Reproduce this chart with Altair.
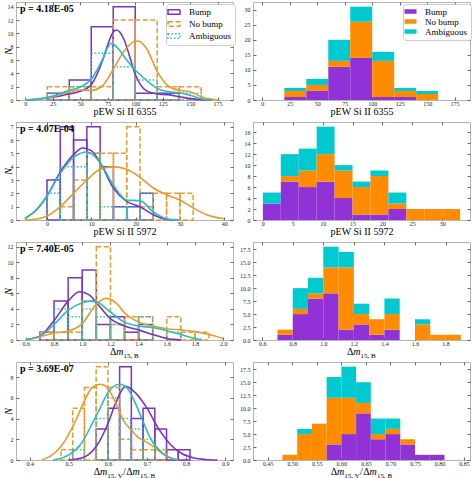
import altair as alt
import pandas as pd

FONT = "Liberation Serif"
CLASSES = ["Bump", "No bump", "Ambiguous"]
LINE_COLORS = ["#7B33C2", "#E99A2B", "#27BEC6"]
BAR_COLORS = ["#9132D6", "#FF8C00", "#00C9CF"]
DASHES = [[1, 0], [5, 2.5], [1.5, 2]]
RECT_PATH = "M-1.5,-0.56H1.5V0.56H-1.5Z"

# ---------------- data ----------------
# Row 1: pEW Si II 6355
R1_EDGES = [20, 40, 60, 80, 100, 120, 140, 160]
R1_BUMP = [1, 3, 11, 14, 1, 1, 0]
R1_NOBUMP = [2, 2, 2, 12, 12, 2, 2]
R1_AMB = [1, 2, 7, 5, 3, 1, 1]
R1_KB_X = [0, 10, 25, 40, 50, 60, 70, 75, 80, 83, 90, 95, 100, 110, 120, 130, 140, 150, 160, 170]
R1_KB_Y = [0, 0.1, 0.4, 0.9, 1.3, 2.3, 5.8, 8.3, 10.2, 10.5, 9.0, 6.5, 3.9, 1.4, 0.9, 0.8, 0.5, 0.2, 0.05, 0]
R1_KN_X = [0, 10, 25, 40, 50, 60, 70, 80, 90, 100, 103, 110, 120, 130, 140, 150, 160, 170, 175]
R1_KN_Y = [0, 0.1, 0.5, 1.2, 1.5, 1.45, 2.1, 4.6, 7.35, 8.8, 8.85, 7.8, 4.3, 2.1, 1.45, 1.25, 0.5, 0.1, 0]
R1_KA_X = [0, 10, 25, 40, 50, 60, 70, 78, 85, 90, 100, 110, 120, 130, 140, 150, 160, 170]
R1_KA_Y = [0, 0.1, 0.6, 1.45, 1.95, 3.1, 6.0, 8.5, 7.6, 6.5, 4.5, 3.0, 1.75, 1.25, 1.1, 0.7, 0.2, 0]

# Row 2: pEW Si II 5972
R2_EDGES = [0, 3, 6, 9, 12, 15, 18, 21, 24, 27, 30, 33]
R2_BUMP = [3, 7, 6, 7, 4, 1, 1, 2, 0, 0, 0]
R2_NOBUMP = [0, 1, 3, 5, 5, 5, 7, 1, 2, 2, 2]
R2_AMB = [2, 4, 4, 5, 1, 1, 1, 2, 0, 0, 0]
R2_KB_X = [-5, -2, 0, 3, 6, 8, 10, 12, 15, 18, 21, 24, 27, 29]
R2_KB_Y = [0.1, 0.9, 1.8, 3.6, 4.9, 5.4, 5.2, 4.3, 2.4, 1.4, 1.0, 0.4, 0.05, 0]
R2_KN_X = [-5, -2, 0, 3, 6, 9, 12, 15, 18, 21, 24, 27, 30, 33, 36, 40]
R2_KN_Y = [0, 0.1, 0.3, 1.0, 2.0, 3.0, 3.8, 4.0, 3.8, 3.2, 2.4, 1.9, 1.5, 0.9, 0.4, 0.1]
R2_KA_X = [-5, -2, 0, 3, 6, 9, 12, 15, 18, 21, 24, 27, 30]
R2_KA_Y = [0.1, 0.9, 1.8, 3.5, 4.7, 5.1, 4.3, 2.6, 1.5, 1.45, 0.6, 0.1, 0]

# Row 3: delta m15 B
R3_EDGES = [0.7, 0.8, 0.9, 1.0, 1.1, 1.2, 1.3, 1.4, 1.5, 1.6, 1.7, 1.8, 1.9]
R3_BUMP = [1, 5, 8, 9, 2, 3, 1, 2, 0, 0, 0, 0]
R3_NOBUMP = [1, 1, 1, 5, 12, 2, 3, 3, 0, 3, 1, 1]
R3_AMB = [0, 4, 3, 4, 3, 2, 0, 3, 0, 1, 0, 0]
R3_KB_X = [0.6, 0.7, 0.8, 0.9, 0.98, 1.05, 1.1, 1.2, 1.3, 1.4, 1.5, 1.6, 1.7]
R3_KB_Y = [0.05, 0.5, 2.5, 5.0, 6.2, 5.8, 4.8, 2.75, 1.8, 1.3, 0.7, 0.2, 0.02]
R3_KN_X = [0.6, 0.7, 0.8, 0.9, 1.0, 1.1, 1.17, 1.25, 1.3, 1.4, 1.5, 1.6, 1.7, 1.8, 1.9, 2.0]
R3_KN_Y = [0.05, 0.4, 0.9, 1.15, 2.1, 4.6, 5.35, 4.6, 3.5, 2.3, 1.8, 1.45, 1.3, 1.1, 0.7, 0.2]
R3_KA_X = [0.6, 0.7, 0.8, 0.9, 1.0, 1.05, 1.1, 1.2, 1.3, 1.4, 1.5, 1.6, 1.7, 1.8, 1.85]
R3_KA_Y = [0.05, 0.5, 2.0, 3.8, 4.8, 5.0, 4.9, 3.6, 2.3, 1.8, 1.6, 1.2, 0.7, 0.2, 0.05]

# Row 4: delta m15 V / delta m15 B
R4_EDGES = [0.48, 0.51, 0.54, 0.57, 0.60, 0.63, 0.66, 0.69, 0.72, 0.75, 0.78, 0.81]
R4_BUMP = [0, 0, 0, 3, 5, 9, 4, 5, 3, 1, 1]
R4_NOBUMP = [1, 5, 7, 9, 7, 2, 1, 1, 1, 0, 0]
R4_AMB = [0, 1, 0, 4, 6, 4, 3, 2, 0, 0, 0]
R4_KB_X = [0.50, 0.54, 0.57, 0.60, 0.62, 0.645, 0.67, 0.70, 0.73, 0.76, 0.79, 0.82, 0.85, 0.88]
R4_KB_Y = [0, 0.3, 1.3, 3.5, 5.5, 7.1, 6.5, 5.0, 3.0, 1.5, 0.6, 0.2, 0.05, 0]
R4_KN_X = [0.43, 0.45, 0.48, 0.50, 0.52, 0.54, 0.56, 0.58, 0.60, 0.62, 0.64, 0.66, 0.68, 0.70, 0.72, 0.74, 0.76, 0.78]
R4_KN_Y = [0, 0.3, 1.3, 2.5, 4.0, 5.7, 7.0, 7.3, 6.9, 5.5, 3.8, 2.9, 2.1, 1.7, 1.2, 0.6, 0.2, 0]
R4_KA_X = [0.46, 0.50, 0.53, 0.56, 0.58, 0.60, 0.63, 0.65, 0.67, 0.69, 0.71, 0.73, 0.75, 0.78]
R4_KA_Y = [0, 0.5, 1.5, 3.5, 5.0, 6.5, 7.3, 6.9, 5.5, 3.7, 2.0, 1.0, 0.4, 0]

P_TEXTS = ["p = 4.18E-05", "p = 4.07E-04", "p = 7.40E-05", "p = 3.69E-07"]
TITLES = ["pEW Si II 6355", "pEW Si II 5972"]

# axis ticks
R1_XT = [0, 25, 50, 75, 100, 125, 150, 175]
R1_YT_L = [0, 2, 4, 6, 8, 10, 12, 14]
R1_YT_R = [0, 5, 10, 15, 20, 25, 30]
R2_XT_L = [0, 10, 20, 30, 40]
R2_XT_R = [0, 5, 10, 15, 20, 25, 30]
R2_YT_L = [0, 1, 2, 3, 4, 5, 6, 7]
R2_YT_R = [0, 2, 4, 6, 8, 10, 12, 14, 16]
R3_XT_L = [0.6, 0.8, 1.0, 1.2, 1.4, 1.6, 1.8, 2.0]
R3_XT_R = [0.6, 0.8, 1.0, 1.2, 1.4, 1.6, 1.8]
R3_YT_L = [0, 2, 4, 6, 8, 10, 12]
R34_YT_R = [0, 2.5, 5, 7.5, 10, 12.5, 15, 17.5]
R4_XT_L = [0.4, 0.5, 0.6, 0.7, 0.8, 0.9]
R4_XT_R = [0.45, 0.5, 0.55, 0.6, 0.65, 0.7, 0.75, 0.8, 0.85]
R4_YT_L = [0, 2, 4, 6, 8]

W, H = 217, 98


def main_axis(orient, values, fmt, extra=None):
    kw = dict(orient=orient, values=values, format=fmt, offset=-3, tickSize=3,
              tickWidth=0.8, tickColor="#444444", domain=False, grid=False,
              labelFont=FONT, labelFontSize=6, labelColor="#222222",
              labelPadding=0 if orient == "bottom" else 3,
              titleFont=FONT, titleFontSize=10, titleFontWeight="normal",
              titleColor="black", titlePadding=0)
    if extra:
        kw.update(extra)
    return alt.Axis(**kw)


def tick_axis(orient, values):
    return alt.Axis(orient=orient, values=values, offset=-3, tickSize=3,
                    tickWidth=0.8, tickColor="#444444", labels=False,
                    domain=False, grid=False)


N_AXIS = dict(titleX=-11, titleY=H / 2, titleAngle=270, titleBaseline="middle",
              titleAlign="center", titleFontStyle="italic")

DASH_EXPR = ("datum.value == 'No bump' ? [5, 2.5] : "
             "(datum.value == 'Ambiguous' ? [1.5, 2] : [1, 0])")


def legend(filled):
    kw = dict(orient="none", legendX=150, legendY=2,
              title=None, labelFont=FONT, labelFontSize=9, labelColor="black",
              symbolType=RECT_PATH, symbolSize=64,
              symbolStrokeWidth=0 if filled else 1.5,
              labelOffset=10, rowPadding=0, padding=3,
              strokeColor="#cccccc", cornerRadius=3, fillColor="white")
    if not filled:
        kw["symbolDash"] = alt.ExprRef(expr=DASH_EXPR)
    return alt.Legend(**kw)


# estimated widths (px) of the title pieces, used to lay them side by side
PIECES = {
    "B": [("Δ", 10, "normal", 6.2, 0), ("m", 10, "italic", 7.4, 0),
          ("15, B", 7, "normal", 15.4, 2.5)],
    "VB": [("Δ", 10, "normal", 6.2, 0), ("m", 10, "italic", 7.4, 0),
           ("15, V", 7, "normal", 15.8, 2.5), ("/", 10, "normal", 3.2, 0),
           ("Δ", 10, "normal", 6.2, 0), ("m", 10, "italic", 7.4, 0),
           ("15, B", 7, "normal", 15.4, 2.5)],
}


def title_layers(kind):
    pieces = PIECES[kind]
    total = sum(p[3] for p in pieces)
    x = W / 2 - total / 2
    out = []
    for t, s, st, w, dy in pieces:
        out.append(alt.Chart(pd.DataFrame({"t": [t]})).mark_text(
            align="left", baseline="alphabetic", font=FONT, fontSize=s,
            fontStyle=st, color="black").encode(
            text="t:N", x=alt.value(x), y=alt.value(H + 15 + dy)))
        x += w
    return out


def left_panel(edges, counts, kdes, xdom, ydom, xt, yt, xfmt, ytfmt, ptext, xtitle, with_legend):
    xs = alt.Scale(domain=xdom, nice=False, zero=False)
    ys = alt.Scale(domain=ydom, nice=False, zero=False)
    col = alt.Scale(domain=CLASSES, range=LINE_COLORS)
    xt_title = xtitle if xtitle not in ("B", "VB") else None
    layers = []
    for k, (cls, cs) in enumerate(zip(CLASSES, counts)):
        rows = [dict(cls=cls, x0=edges[i], x1=edges[i + 1], n=c, base=0)
                for i, c in enumerate(cs) if c > 0]
        hd = pd.DataFrame(rows)
        if k == 0:
            xenc = alt.X("x0:Q", scale=xs, axis=main_axis("bottom", xt, xfmt), title=xt_title)
            yenc = alt.Y("n:Q", scale=ys, axis=main_axis("left", yt, ytfmt, N_AXIS), title="N")
            cenc = alt.Color("cls:N", scale=col, sort=CLASSES,
                             legend=legend(False) if with_legend else None)
        else:
            xenc = alt.X("x0:Q", scale=xs, axis=None)
            yenc = alt.Y("n:Q", scale=ys, axis=None)
            cenc = alt.Color("cls:N", scale=col, sort=CLASSES, legend=None)
        layers.append(alt.Chart(hd).mark_rect(
            filled=False, strokeWidth=1.5, strokeDash=DASHES[k]).encode(
            x=xenc, x2="x1:Q", y=yenc, y2="base:Q", color=cenc))
    krows = []
    for cls, (kx, ky) in zip(CLASSES, kdes):
        for a, b in zip(kx, ky):
            krows.append(dict(cls=cls, x=a, y=b))
    kd = pd.DataFrame(krows)
    layers.append(alt.Chart(kd).mark_line(strokeWidth=1.6, interpolate="monotone").encode(
        x=alt.X("x:Q", scale=xs, axis=tick_axis("top", xt), title=None),
        y=alt.Y("y:Q", scale=ys, axis=tick_axis("right", yt), title=None),
        color=alt.Color("cls:N", scale=col, sort=CLASSES, legend=None),
        detail="cls:N",
    ))
    layers.append(alt.Chart(pd.DataFrame({"t": [ptext]})).mark_text(
        align="left", baseline="middle", font=FONT, fontSize=10, fontWeight="bold",
        color="black").encode(text="t:N", x=alt.value(4), y=alt.value(7)))
    if xtitle in ("B", "VB"):
        layers += title_layers(xtitle)
    return alt.layer(*layers).resolve_axis(x="independent", y="independent").properties(
        width=W, height=H)


def right_panel(edges, counts, xdom, ydom, xt, yt, xfmt, ytfmt, xtitle, with_legend):
    rows = []
    for i in range(len(counts[0])):
        base = 0
        for cls, cs in zip(CLASSES, counts):
            c = cs[i]
            if c > 0:
                rows.append(dict(cls=cls, x0=edges[i], x1=edges[i + 1], y0=base, y1=base + c))
            base += c
    sd = pd.DataFrame(rows)
    xs = alt.Scale(domain=xdom, nice=False, zero=False)
    ys = alt.Scale(domain=ydom, nice=False, zero=False)
    col = alt.Scale(domain=CLASSES, range=BAR_COLORS)
    color = alt.Color("cls:N", scale=col, sort=CLASSES,
                      legend=legend(True) if with_legend else None)
    xt_title = xtitle if xtitle not in ("B", "VB") else None
    bars = alt.Chart(sd).mark_rect().encode(
        x=alt.X("x0:Q", scale=xs, axis=main_axis("bottom", xt, xfmt), title=xt_title),
        x2="x1:Q",
        y=alt.Y("y1:Q", scale=ys, axis=main_axis("left", yt, ytfmt), title=None),
        y2="y0:Q",
        color=color,
    )
    ticks = alt.Chart(sd).mark_rect(opacity=0).encode(
        x=alt.X("x0:Q", scale=xs, axis=tick_axis("top", xt), title=None),
        x2="x1:Q",
        y=alt.Y("y1:Q", scale=ys, axis=tick_axis("right", yt), title=None),
        y2="y0:Q",
    )
    layers = [bars, ticks]
    if xtitle in ("B", "VB"):
        layers += title_layers(xtitle)
    return alt.layer(*layers).resolve_axis(x="independent", y="independent").properties(
        width=W, height=H)


L1 = left_panel(R1_EDGES, [R1_BUMP, R1_NOBUMP, R1_AMB],
                [(R1_KB_X, R1_KB_Y), (R1_KN_X, R1_KN_Y), (R1_KA_X, R1_KA_Y)],
                [-8.5, 189], [0, 14.7], R1_XT, R1_YT_L, "d", "d", P_TEXTS[0], TITLES[0], True)
R1 = right_panel(R1_EDGES, [R1_BUMP, R1_NOBUMP, R1_AMB], [-8.5, 189], [0, 32.55],
                 R1_XT, R1_YT_R, "d", "d", TITLES[0], True)
L2 = left_panel(R2_EDGES, [R2_BUMP, R2_NOBUMP, R2_AMB],
                [(R2_KB_X, R2_KB_Y), (R2_KN_X, R2_KN_Y), (R2_KA_X, R2_KA_Y)],
                [-7, 42], [0, 7.35], R2_XT_L, R2_YT_L, "d", "d", P_TEXTS[1], TITLES[1], False)
R2 = right_panel(R2_EDGES, [R2_BUMP, R2_NOBUMP, R2_AMB], [-1.65, 34.65], [0, 17.85],
                 R2_XT_R, R2_YT_R, "d", "d", TITLES[1], False)
L3 = left_panel(R3_EDGES, [R3_BUMP, R3_NOBUMP, R3_AMB],
                [(R3_KB_X, R3_KB_Y), (R3_KN_X, R3_KN_Y), (R3_KA_X, R3_KA_Y)],
                [0.53, 2.07], [0, 12.6], R3_XT_L, R3_YT_L, ".1f", "d", P_TEXTS[2], "B", False)
R3 = right_panel(R3_EDGES, [R3_BUMP, R3_NOBUMP, R3_AMB], [0.54, 1.96], [0, 18.9],
                 R3_XT_R, R34_YT_R, ".1f", ".1f", "B", False)
L4 = left_panel(R4_EDGES, [R4_BUMP, R4_NOBUMP, R4_AMB],
                [(R4_KB_X, R4_KB_Y), (R4_KN_X, R4_KN_Y), (R4_KA_X, R4_KA_Y)],
                [0.365, 0.92], [0, 9.45], R4_XT_L, R4_YT_L, ".1f", "d", P_TEXTS[3], "VB", False)
R4 = right_panel(R4_EDGES, [R4_BUMP, R4_NOBUMP, R4_AMB], [0.42, 0.862], [0, 18.9],
                 R4_XT_R, R34_YT_R, ".2f", ".1f", "VB", False)

chart = alt.concat(L1, R1, L2, R2, L3, R3, L4, R4, columns=2,
                   spacing={"row": 22, "column": 20}, bounds="flush").resolve_scale(
    color="independent").resolve_legend(color="independent").properties(
    padding={"left": 2, "top": 1, "right": 0, "bottom": 0},
    background="white").configure_view(stroke="#b5b5b5", strokeWidth=1)

chart.save("out.html", embed_options={"renderer": "svg", "actions": False})
